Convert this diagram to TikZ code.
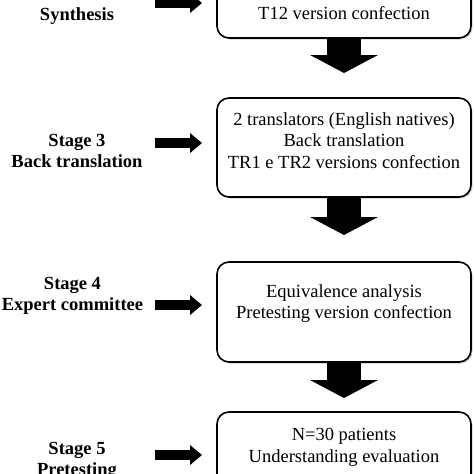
\documentclass[tikz,border=0pt]{standalone}
\usepackage{fontspec}
\setmainfont{Liberation Serif}
\usetikzlibrary{arrows.meta, positioning, shadows}

\tikzset{
  stagebox/.style={draw, line width=1.6pt, rounded corners=12pt, minimum width=254pt, outer sep=0pt, inner sep=0pt, fill=white, drop shadow={shadow xshift=1.5pt, shadow yshift=-1.5pt, opacity=0.4}},
  boxtext/.style={align=center, inner sep=0pt, font=\fontsize{18.5}{21.5}\selectfont},
  stagelabel/.style={align=center, inner sep=0pt, font=\fontsize{18.5}{21.5}\selectfont\bfseries},
  downarrow/.style={line width=34pt, -{Triangle[length=18pt, width=68pt, line width=0pt]}},
  rightarrow/.style={line width=10pt, -{Triangle[length=12pt, width=20pt, line width=0pt]}}
}

\begin{document}
\begin{tikzpicture}[x=1pt, y=-1pt]
    \useasboundingbox (0,0) rectangle (474,474);

    % boxes
    \node[stagebox, minimum height=100pt] (b1) at (344,-12) {};
    \node[stagebox, minimum height=99pt] (b2) at (344,147.5) {};
    \node[stagebox, minimum height=100pt] (b3) at (344,312) {};
    \node[stagebox, minimum height=100pt] (b4) at (344,462) {};

    \node[boxtext, above=18pt of b1.south] (t1) {T12 version confection};
    \node[boxtext, below=14pt of b2.north] (t2) {2 translators (English natives)\\Back translation\\TR1 e TR2 versions confection};
    \node[boxtext, below=22pt of b3.north] (t3) {Equivalence analysis\\Pretesting version confection};
    \node[boxtext, below=16pt of b4.north] (t4) {N=30 patients\\Understanding evaluation};

    % stages
    \node[stagelabel, anchor=base] (s2) at (77,20) {Synthesis};
    \node[stagelabel, anchor=north] (s3) at (77,134) {Stage 3\\Back translation};
    \node[stagelabel, anchor=north] (s4) at (72.5,277) {Stage 4\\Expert committee};
    \node[stagelabel, anchor=north] (s5) at (77,442) {Stage 5\\Pretesting};

    \coordinate (a2) at (155,3);
    \coordinate (a3) at (155,143);
    \coordinate (a4) at (155,305);
    \coordinate (a5) at (155,455);

    \draw
    (b1.south) edge[downarrow, shorten >=25pt] (b2.north)
    (b2.south) edge[downarrow, shorten >=27pt] (b3.north)
    (b3.south) edge[downarrow, shorten >=14pt] (b4.north)
    (a2) edge[rightarrow, shorten >=15pt] (a2 -| b1.west)
    (a3) edge[rightarrow, shorten >=15pt] (a3 -| b2.west)
    (a4) edge[rightarrow, shorten >=15pt] (a4 -| b3.west)
    (a5) edge[rightarrow, shorten >=15pt] (a5 -| b4.west);
\end{tikzpicture}
\end{document}
